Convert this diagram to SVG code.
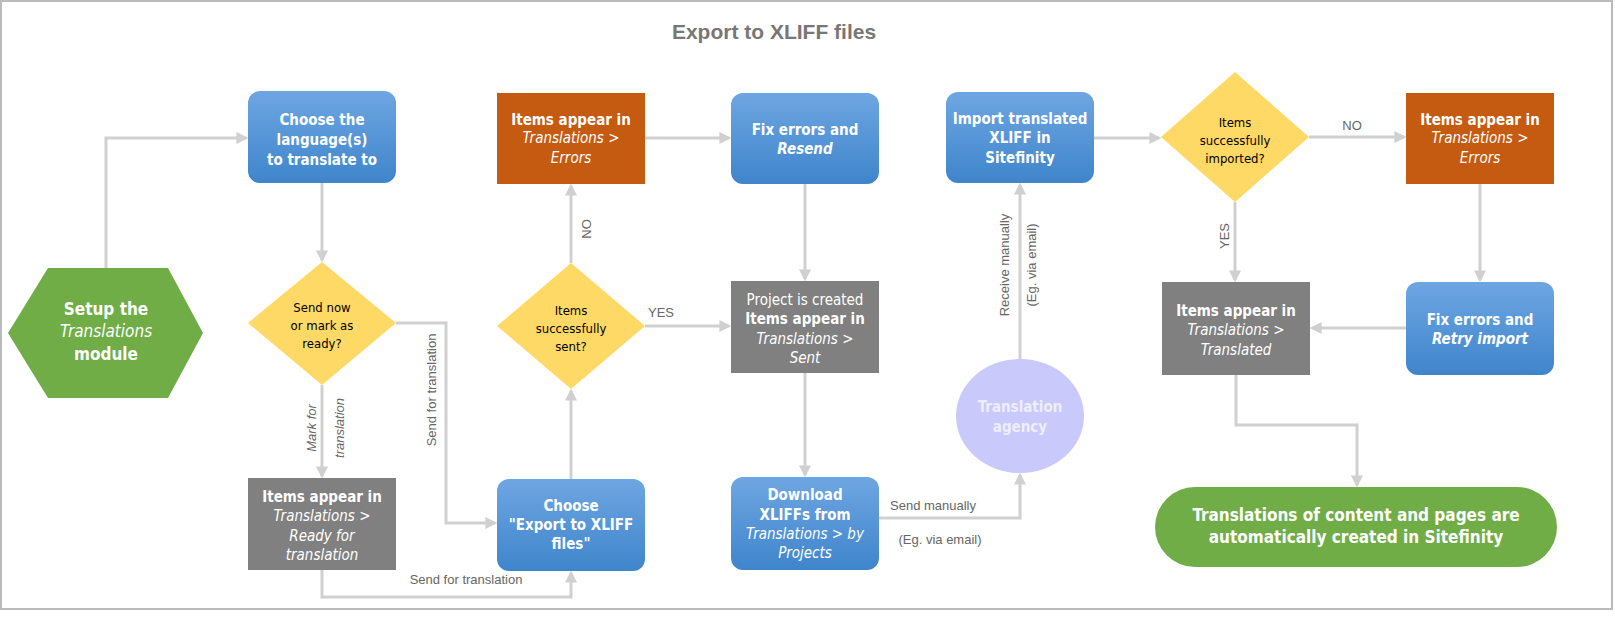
<svg xmlns="http://www.w3.org/2000/svg" width="1615" height="630" viewBox="0 0 1615 630">
<defs>
<linearGradient id="blue" x1="0" y1="0" x2="0" y2="1"><stop offset="0" stop-color="#6ea6e2"/><stop offset="1" stop-color="#3f85cb"/></linearGradient>
<marker id="ah" viewBox="0 0 10 10" refX="8" refY="5" markerWidth="4" markerHeight="4" orient="auto"><path d="M0,0 L10,5 L0,10 z" fill="#d0d0d0"/></marker>
<style>
.c{fill:none;stroke:#d0d0d0;stroke-width:3;marker-end:url(#ah)}
.l{fill:none;stroke:#d0d0d0;stroke-width:3}
text{font-family:"DejaVu Sans Condensed","Liberation Sans Narrow","Liberation Sans",sans-serif;text-anchor:middle}
.w{fill:#fff;font-size:15px;font-weight:bold}
.i{font-style:italic;font-weight:normal}
.k{fill:#000;font-size:13px}
.g{fill:#666;font-size:13px;font-family:"Liberation Sans",sans-serif}
.blue{fill:url(#blue)}
.gray{fill:#808080}
.or{fill:#c55a11}
.yl{fill:#ffd966}
</style>
</defs>
<rect x="0" y="0" width="1615" height="630" fill="#fff"/>
<rect x="1" y="1" width="1611" height="608" fill="none" stroke="#bbb" stroke-width="2"/>
<text x="774" y="39" style="font-size:21px;font-weight:bold;fill:#777;font-family:'Liberation Sans',sans-serif">Export to XLIFF files</text>
<g id="connectors">
<path class="c" d="M106,268 V138 H246"/>
<path class="c" d="M322,183 V260"/>
<path class="c" d="M322,385 V476"/>
<path class="c" d="M396,323 H446 V523 H495"/>
<path class="c" d="M322,570 V597 H571 V573"/>
<path class="c" d="M571,479 V391"/>
<path class="c" d="M571,263 V186"/>
<path class="c" d="M645,326 H729"/>
<path class="c" d="M645,138 H729"/>
<path class="c" d="M805,184 V279"/>
<path class="c" d="M805,373 V475"/>
<path class="c" d="M879,518 H1020 V475"/>
<path class="c" d="M1020,359 V185"/>
<path class="c" d="M1094,138 H1159"/>
<path class="c" d="M1309,137 H1404"/>
<path class="c" d="M1235,202 V280"/>
<path class="c" d="M1480,184 V280"/>
<path class="c" d="M1406,328 H1312"/>
<path class="c" d="M1236,375 V425 H1357 V485"/>
<text class="g" x="466" y="584">Send for translation</text>
<text class="g" transform="translate(436,390) rotate(-90)">Send for translation</text>
<text class="g" style="font-style:italic" transform="translate(316,428) rotate(-90)">Mark for</text>
<text class="g" style="font-style:italic" transform="translate(344,428) rotate(-90)">translation</text>
<text class="g" transform="translate(591,229) rotate(-90)">NO</text>
<text class="g" x="661" y="317">YES</text>
<text class="g" x="933" y="510">Send manually</text>
<text class="g" x="940" y="544">(Eg. via email)</text>
<text class="g" transform="translate(1009,265) rotate(-90)">Receive manually</text>
<text class="g" transform="translate(1036,265) rotate(-90)">(Eg. via email)</text>
<text class="g" x="1352" y="130">NO</text>
<text class="g" transform="translate(1229,236) rotate(-90)">YES</text>
</g>
<g id="setup">
<polygon points="8,333 48,268 168,268 203,333 168,398 48,398" fill="#70ad47"/>
<text class="w" x="106" y="315" style="font-size:17px">Setup the</text>
<text class="w i" x="106" y="337" style="font-size:17px">Translations</text>
<text class="w" x="106" y="360" style="font-size:17px">module</text>
</g>
<g id="chooselang">
<rect class="blue" x="248" y="91" width="148" height="92" rx="12"/>
<text class="w" x="322" y="125">Choose the</text>
<text class="w" x="322" y="145">language(s)</text>
<text class="w" x="322" y="165">to translate to</text>
</g>
<g id="sendnow">
<polygon class="yl" points="322,262 396,323 322,385 248,323"/>
<text class="k" x="322" y="312">Send now</text>
<text class="k" x="322" y="330">or mark as</text>
<text class="k" x="322" y="348">ready?</text>
</g>
<g id="ready">
<rect class="gray" x="248" y="478" width="148" height="92"/>
<text class="w" x="322" y="502">Items appear in</text>
<text class="w i" x="322" y="521">Translations &gt;</text>
<text class="w i" x="322" y="541">Ready for</text>
<text class="w i" x="322" y="560">translation</text>
</g>
<g id="export">
<rect class="blue" x="497" y="479" width="148" height="92" rx="12"/>
<text class="w" x="571" y="511">Choose</text>
<text class="w" x="571" y="530">"Export to XLIFF</text>
<text class="w" x="571" y="549">files"</text>
</g>
<g id="sent">
<polygon class="yl" points="571,263 645,326 571,389 497,326"/>
<text class="k" x="571" y="315">Items</text>
<text class="k" x="571" y="333">successfully</text>
<text class="k" x="571" y="351">sent?</text>
</g>
<g id="errors1">
<rect class="or" x="497" y="93" width="148" height="91"/>
<text class="w" x="571" y="125">Items appear in</text>
<text class="w i" x="571" y="143">Translations &gt;</text>
<text class="w i" x="571" y="163">Errors</text>
</g>
<g id="resend">
<rect class="blue" x="731" y="93" width="148" height="91" rx="12"/>
<text class="w" x="805" y="135">Fix errors and</text>
<text class="w" x="805" y="154" style="font-style:italic">Resend</text>
</g>
<g id="project">
<rect class="gray" x="731" y="281" width="148" height="92"/>
<text class="w" x="805" y="305" style="font-weight:normal">Project is created</text>
<text class="w" x="805" y="324">Items appear in</text>
<text class="w i" x="805" y="344">Translations &gt;</text>
<text class="w i" x="805" y="363">Sent</text>
</g>
<g id="download">
<rect class="blue" x="731" y="477" width="148" height="93" rx="12"/>
<text class="w" x="805" y="500">Download</text>
<text class="w" x="805" y="520">XLIFFs from</text>
<text class="w i" x="805" y="539">Translations &gt; by</text>
<text class="w i" x="805" y="558">Projects</text>
</g>
<g id="agency">
<ellipse cx="1020" cy="416" rx="64" ry="57" fill="#c9c9fb"/>
<text class="w" x="1020" y="412" style="fill:#eeeeff">Translation</text>
<text class="w" x="1020" y="432" style="fill:#eeeeff">agency</text>
</g>
<g id="import">
<rect class="blue" x="946" y="92" width="148" height="91" rx="12"/>
<text class="w" x="1020" y="124">Import translated</text>
<text class="w" x="1020" y="143">XLIFF in</text>
<text class="w" x="1020" y="163">Sitefinity</text>
</g>
<g id="imported">
<polygon class="yl" points="1235,72 1309,137 1235,202 1161,137"/>
<text class="k" x="1235" y="127">Items</text>
<text class="k" x="1235" y="145">successfully</text>
<text class="k" x="1235" y="163">imported?</text>
</g>
<g id="errors2">
<rect class="or" x="1406" y="93" width="148" height="91"/>
<text class="w" x="1480" y="125">Items appear in</text>
<text class="w i" x="1480" y="143">Translations &gt;</text>
<text class="w i" x="1480" y="163">Errors</text>
</g>
<g id="retry">
<rect class="blue" x="1406" y="282" width="148" height="93" rx="12"/>
<text class="w" x="1480" y="325">Fix errors and</text>
<text class="w" x="1480" y="344" style="font-style:italic">Retry import</text>
</g>
<g id="translated">
<rect class="gray" x="1162" y="282" width="148" height="93"/>
<text class="w" x="1236" y="316">Items appear in</text>
<text class="w i" x="1236" y="335">Translations &gt;</text>
<text class="w i" x="1236" y="355">Translated</text>
</g>
<g id="final">
<rect x="1155" y="487" width="402" height="80" rx="40" fill="#70ad47"/>
<text class="w" x="1356" y="521" style="font-size:17px">Translations of content and pages are</text>
<text class="w" x="1356" y="543" style="font-size:17px">automatically created in Sitefinity</text>
</g>
</svg>
